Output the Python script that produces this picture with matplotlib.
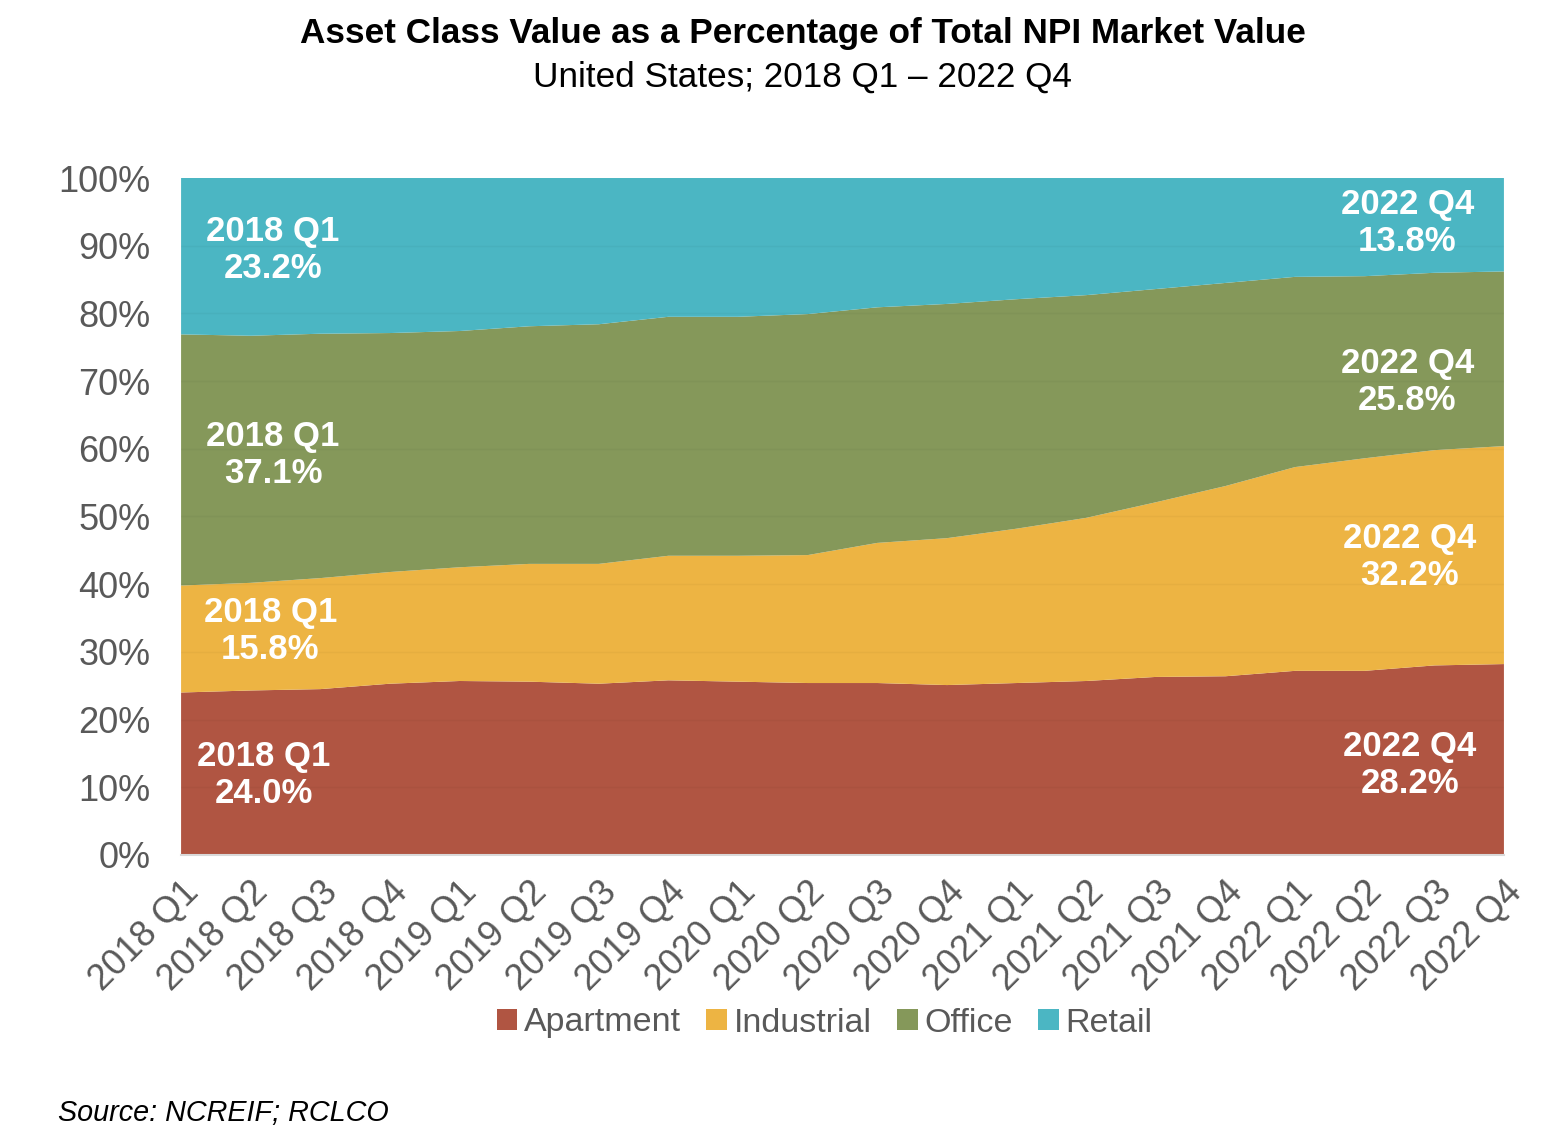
import matplotlib
matplotlib.use("Agg")
import matplotlib.pyplot as plt
import numpy as np

plt.rcParams['font.family'] = ['Liberation Sans', 'DejaVu Sans']

quarters = ["2018 Q1", "2018 Q2", "2018 Q3", "2018 Q4",
            "2019 Q1", "2019 Q2", "2019 Q3", "2019 Q4",
            "2020 Q1", "2020 Q2", "2020 Q3", "2020 Q4",
            "2021 Q1", "2021 Q2", "2021 Q3", "2021 Q4",
            "2022 Q1", "2022 Q2", "2022 Q3", "2022 Q4"]

apartment = [24.0, 24.3, 24.5, 25.3, 25.7, 25.6, 25.3, 25.8, 25.6, 25.4,
             25.4, 25.1, 25.4, 25.7, 26.3, 26.4, 27.2, 27.2, 28.0, 28.2]
industrial = [15.8, 15.9, 16.4, 16.5, 16.8, 17.4, 17.7, 18.4, 18.6, 18.9,
              20.7, 21.7, 22.8, 24.1, 25.8, 28.1, 30.1, 31.4, 31.8, 32.2]
office = [37.1, 36.5, 36.1, 35.3, 34.9, 35.1, 35.4, 35.3, 35.3, 35.6,
          34.8, 34.6, 33.9, 32.9, 31.5, 30.0, 28.1, 26.9, 26.2, 25.8]
retail = [23.2, 23.3, 23.0, 22.9, 22.6, 21.9, 21.6, 20.5, 20.5, 20.1,
          19.1, 18.6, 17.9, 17.3, 16.4, 15.5, 14.6, 14.5, 14.0, 13.8]

series_names = ["Apartment", "Industrial", "Office", "Retail"]
colors = ["#B05542", "#EDB443", "#85985A", "#4BB6C3"]

fig = plt.figure(figsize=(15.53, 11.47), dpi=100)
ax = fig.add_axes([0.1166, 0.2546, 0.8518, 0.5902])

x = np.arange(len(quarters))
ax.stackplot(x, apartment, industrial, office, retail, colors=colors,
             labels=series_names, linewidth=0, zorder=2)

ax.set_xlim(0, len(quarters) - 1)
ax.set_ylim(0, 100)
ax.set_yticks(np.arange(0, 101, 10))
ax.set_yticklabels([f"{v}%" for v in range(0, 101, 10)])
ax.set_xticks(x)
ax.set_xticklabels(quarters, rotation=45, ha="right", va="top",
                   rotation_mode="anchor")
ax.tick_params(axis="both", length=0, labelsize=26, colors="#595959")
ax.tick_params(axis="y", pad=22)
ax.tick_params(axis="x", pad=14)
for s in ["top", "right", "left"]:
    ax.spines[s].set_visible(False)
ax.spines["bottom"].set_color("#D9D9D9")
ax.spines["bottom"].set_linewidth(1.5)
ax.spines["bottom"].set_zorder(3)

# faint gridlines showing through
for yv in range(10, 100, 10):
    ax.axhline(yv, color="#000000", alpha=0.03, linewidth=1, zorder=3)

# annotations
label_kw = dict(color="white", fontsize=25, fontweight="bold",
                ha="center", va="center", linespacing=1.15, zorder=4)
first, last = quarters[0], quarters[-1]
ax.text(1.32, 89.4, f"{first}\n{retail[0]:.1f}%", **label_kw)
ax.text(1.32, 59.1, f"{first}\n{office[0]:.1f}%", **label_kw)
ax.text(1.28, 33.1, f"{first}\n{industrial[0]:.1f}%", **label_kw)
ax.text(1.19, 11.8, f"{first}\n{apartment[0]:.1f}%", **label_kw)
ax.text(17.61, 93.4, f"{last}\n{retail[-1]:.1f}%", **label_kw)
ax.text(17.61, 69.9, f"{last}\n{office[-1]:.1f}%", **label_kw)
ax.text(17.65, 44.0, f"{last}\n{industrial[-1]:.1f}%", **label_kw)
ax.text(17.65, 13.3, f"{last}\n{apartment[-1]:.1f}%", **label_kw)

# titles
fig.text(0.517, 1 - 34 / 1147, "Asset Class Value as a Percentage of Total NPI Market Value",
         ha="center", va="center", fontsize=25.3, fontweight="bold", color="black")
fig.text(0.517, 1 - 77 / 1147, "United States; 2018 Q1 \u2013 2022 Q4",
         ha="center", va="center", fontsize=25.3, color="black")

# legend
leg = fig.legend(loc="center", bbox_to_anchor=(0.531, 1 - 1023 / 1147), ncol=4,
                 frameon=False, fontsize=24.5, handlelength=0.6, handleheight=0.6,
                 handletextpad=0.2, columnspacing=0.75, labelcolor="#595959")

fig.text(58 / 1553, 1 - 1113 / 1147, "Source: NCREIF; RCLCO", ha="left", va="center",
         fontsize=20.7, style="italic", color="black")

fig.savefig("out.png", dpi=100, facecolor="white")
